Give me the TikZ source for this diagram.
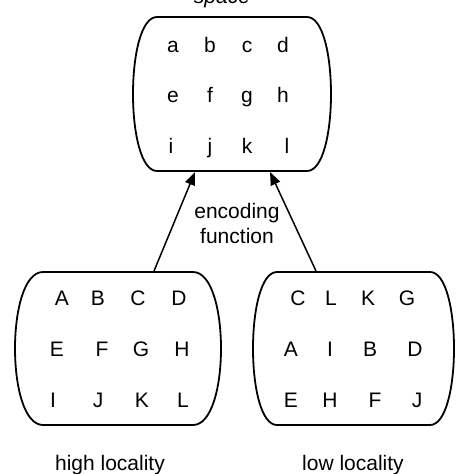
\documentclass[tikz,border=0pt]{standalone}
\usepackage{fontspec}
\setmainfont{Liberation Sans}
\usetikzlibrary{arrows.meta}
\tikzset{
  lbl/.style={anchor=base, inner sep=0pt, font=\fontsize{21}{25}\selectfont},
  boxline/.style={line width=1.8pt, line join=round},
  arr/.style={line width=1.5pt, -{Triangle[length=13pt,width=10pt]}},
}
\newcommand{\bulgebox}[5]{% x1 x2 top bottom bulge
  \draw[boxline] (#1,#3) -- (#2,#3)
    .. controls ({#2+(#5)*4/3},#3) and ({#2+(#5)*4/3},#4) .. (#2,#4)
    -- (#1,#4)
    .. controls ({#1-(#5)*4/3},#4) and ({#1-(#5)*4/3},#3) .. (#1,#3) -- cycle;}
\begin{document}
\begin{tikzpicture}[x=1pt,y=-1pt]
\useasboundingbox (0,0) rectangle (474,474);
% boxes
\bulgebox{157}{307}{17}{171}{24}
\bulgebox{43}{193}{272}{425}{28}
\bulgebox{277}{430}{272}{425}{24}
% top label
\node[lbl, font=\fontsize{21}{25}\selectfont\itshape] (sp) at (222,3) {space};
% top grid
\node[lbl] (a) at (173,52) {a};
\node[lbl] (b) at (210,52) {b};
\node[lbl] (c) at (247,52) {c};
\node[lbl] (d) at (283,52) {d};
\node[lbl] (e) at (173,102) {e};
\node[lbl] (f) at (210,102) {f};
\node[lbl] (g) at (247,102) {g};
\node[lbl] (h) at (283,102) {h};
\node[lbl] (i) at (171,153) {i};
\node[lbl] (j) at (210,153) {j};
\node[lbl] (k) at (247,153) {k};
\node[lbl] (l) at (287,153) {l};
% bottom left grid
\node[lbl] (LA) at (62,305) {A};
\node[lbl] (LB) at (98,305) {B};
\node[lbl] (LC) at (138,305) {C};
\node[lbl] (LD) at (179,305) {D};
\node[lbl] (LE) at (57,356) {E};
\node[lbl] (LF) at (102,356) {F};
\node[lbl] (LG) at (141,356) {G};
\node[lbl] (LH) at (182,356) {H};
\node[lbl] (LI) at (53,407) {I};
\node[lbl] (LJ) at (98,407) {J};
\node[lbl] (LK) at (142,407) {K};
\node[lbl] (LL) at (183,407) {L};
% bottom right grid
\node[lbl] (RC) at (298,305) {C};
\node[lbl] (RL) at (331,305) {L};
\node[lbl] (RK) at (368,305) {K};
\node[lbl] (RG) at (407,305) {G};
\node[lbl] (RA) at (291,356) {A};
\node[lbl] (RI) at (330,356) {I};
\node[lbl] (RB) at (370,356) {B};
\node[lbl] (RD) at (415,356) {D};
\node[lbl] (RE) at (291,407) {E};
\node[lbl] (RH) at (330,407) {H};
\node[lbl] (RF) at (375,407) {F};
\node[lbl] (RJ) at (417,407) {J};
% labels
\node[lbl] (enc) at (237,218) {encoding};
\node[lbl] (fun) at (237,243) {function};
\node[lbl] (hl) at (110,470) {high locality};
\node[lbl] (ll) at (353,470) {low locality};
% arrows
\coordinate (s1) at (154,271);
\coordinate (t1) at (195,172);
\coordinate (s2) at (316,271);
\coordinate (t2) at (270,172);
\draw[arr] (s1) -- (t1);
\draw[arr] (s2) -- (t2);
\end{tikzpicture}
\end{document}
